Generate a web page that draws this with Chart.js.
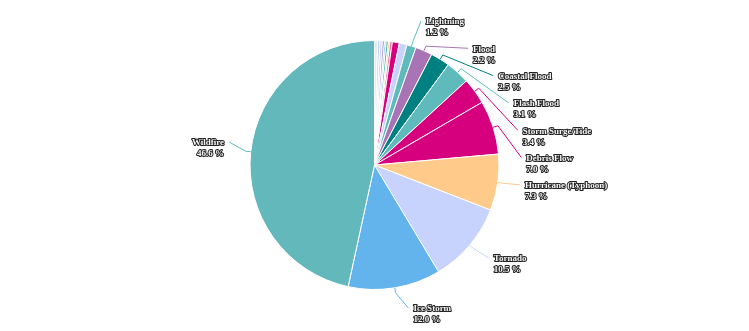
<!DOCTYPE html>
<html>
<head>
<meta charset="utf-8">
<script src="https://cdn.jsdelivr.net/npm/chart.js@4.4.0/dist/chart.umd.min.js"></script>
<style>
  html, body { margin: 0; padding: 0; background: #fff; }
  #wrap { width: 749px; height: 331px; }
</style>
</head>
<body>
<div id="wrap"><canvas id="hazardChart"></canvas></div>
<script>
// slices in drawing order, clockwise from 12 o'clock
const hazards = [
    'Winter Weather', 'Heavy Rain', 'Landslide', 'Drought', 'Hail', 'Strong Wind',
    'Extreme Heat', 'Avalanche', 'Severe Storm', 'Earthquake',
    'Lightning', 'Flood', 'Coastal Flood', 'Flash Flood', 'Storm Surge/Tide',
    'Debris Flow', 'Hurricane (Typhoon)', 'Tornado', 'Ice Storm', 'Wildfire'
];
const shares = [
    0.4, 0.3, 0.3, 0.3, 0.2, 0.3,
    0.2, 0.3, 0.9, 1.0,
    1.2, 2.2, 2.5, 3.1, 3.4,
    7.0, 7.3, 10.5, 12.0, 46.6
];
const sliceColors = [
    '#e4ebf2', '#b9d5ee', '#cdd2f8', '#b6a2d8', '#4f9fdb', '#5db8ba',
    '#f6a46c', '#ec6c96', '#d6007e', '#c7d3fd',
    '#5fbbbb', '#a874b5', '#008080', '#5fbbbb', '#d6007e',
    '#d6007e', '#ffca8a', '#c7d3fd', '#63b3ed', '#62b8bb'
];

const labelMin = 1.1;

const outsideLabels = {
    id: 'outsideLabels',
    afterDatasetsDraw(chart) {
        const ctx = chart.ctx;
        const meta = chart.getDatasetMeta(0);
        const H = chart.height;
        const dist = 30, R = 152, gap = 27.3;
        const items = [];
        meta.data.forEach((arc, i) => {
            if (shares[i] < labelMin) return;
            const a = (arc.startAngle + arc.endAngle) / 2;
            const r = arc.outerRadius;
            items.push({
                i, a, r, cx: arc.x, cy: arc.y,
                right: Math.cos(a) >= 0,
                natural: arc.y + Math.sin(a) * (r + dist)
            });
        });

        // stack labels on each side so they don't overlap
        [true, false].forEach(side => {
            const list = items.filter(it => it.right === side).sort((p, q) => p.natural - q.natural);
            let prev = -Infinity;
            list.forEach(it => {
                it.y = Math.max(it.natural, 27.5, prev + gap);
                prev = it.y;
            });
            let next = Infinity;
            for (let k = list.length - 1; k >= 0; k--) {
                const it = list[k];
                const lim = Math.min(H - 16.5, next - gap);
                if (it.y > lim + 0.5) { it.y = lim; it.clamped = true; }
                next = it.y;
            }
        });

        ctx.save();
        ctx.font = 'bold 9px "Liberation Serif"';
        ctx.textBaseline = 'middle';
        items.forEach(it => {
            const y1 = it.y - 5.5;
            const yForX = (it.clamped ? it.natural : it.y) - 5.5;
            const dy = Math.min(Math.abs(yForX - it.cy), R);
            const dx = Math.sqrt(R * R - dy * dy);
            const sgn = it.right ? 1 : -1;
            const tx = it.cx + sgn * dx;
            const color = sliceColors[it.i];

            // connector
            const ex = it.cx + Math.cos(it.a) * it.r;
            const ey = it.cy + Math.sin(it.a) * it.r;
            const bx = it.cx + Math.cos(it.a) * (it.r + 5);
            const by = it.cy + Math.sin(it.a) * (it.r + 5);
            ctx.beginPath();
            ctx.strokeStyle = color;
            ctx.lineWidth = 1;
            ctx.moveTo(ex, ey);
            ctx.lineTo(bx, by);
            ctx.lineTo(tx - sgn * 5, y1 - 1);
            ctx.stroke();

            // text
            ctx.textAlign = it.right ? 'left' : 'right';
            const lines = [hazards[it.i], shares[it.i].toFixed(1) + ' %'];
            lines.forEach((t, k) => {
                const ty = y1 + k * 11;
                ctx.lineWidth = 2;
                ctx.lineJoin = 'round';
                ctx.strokeStyle = '#222';
                ctx.strokeText(t, tx, ty);
                ctx.fillStyle = '#f4f4f4';
                ctx.fillText(t, tx, ty);
            });
        });
        ctx.restore();
    }
};

new Chart(document.getElementById('hazardChart').getContext('2d'), {
    type: 'pie',
    data: {
        labels: hazards,
        datasets: [{
            data: shares,
            backgroundColor: sliceColors,
            borderColor: '#ffffff',
            borderWidth: 1,
            hoverOffset: 0
        }]
    },
    options: {
        responsive: true,
        maintainAspectRatio: false,
        animation: false,
        layout: {
            padding: { top: 40, bottom: 41, left: 0, right: 0 }
        },
        plugins: {
            legend: { display: false },
            tooltip: { enabled: false }
        }
    },
    plugins: [outsideLabels]
});
</script>
</body>
</html>
